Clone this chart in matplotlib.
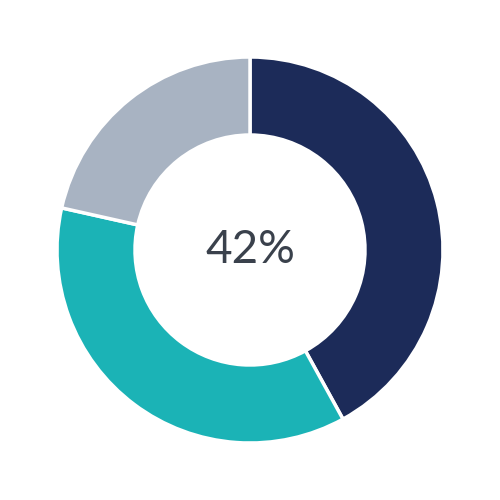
import matplotlib
matplotlib.use("Agg")
from matplotlib import pyplot as plt

# Slice shares (percent), clockwise from the top
labels = ["A", "B", "C"]
values = [42, 36.5, 21.5]
colors = ["#1c2b59", "#1bb3b6", "#a8b3c2"]
center_text = "42%"

fig = plt.figure(figsize=(5, 5), dpi=100)
ax = fig.add_axes([0, 0, 1, 1])

ax.pie(values, colors=colors, radius=193, startangle=90, counterclock=False,
       wedgeprops=dict(width=78, edgecolor="white", linewidth=2.5))

# pie() resets the limits, so set them afterwards
ax.set_xlim(-250, 250)
ax.set_ylim(-250, 250)
ax.set_aspect("equal")
ax.axis("off")

ax.text(0, 0, center_text, ha="center", va="center", fontsize=33,
        family="Lato", fontweight="normal", color="#3a414c")

fig.savefig("out.png", dpi=100)
